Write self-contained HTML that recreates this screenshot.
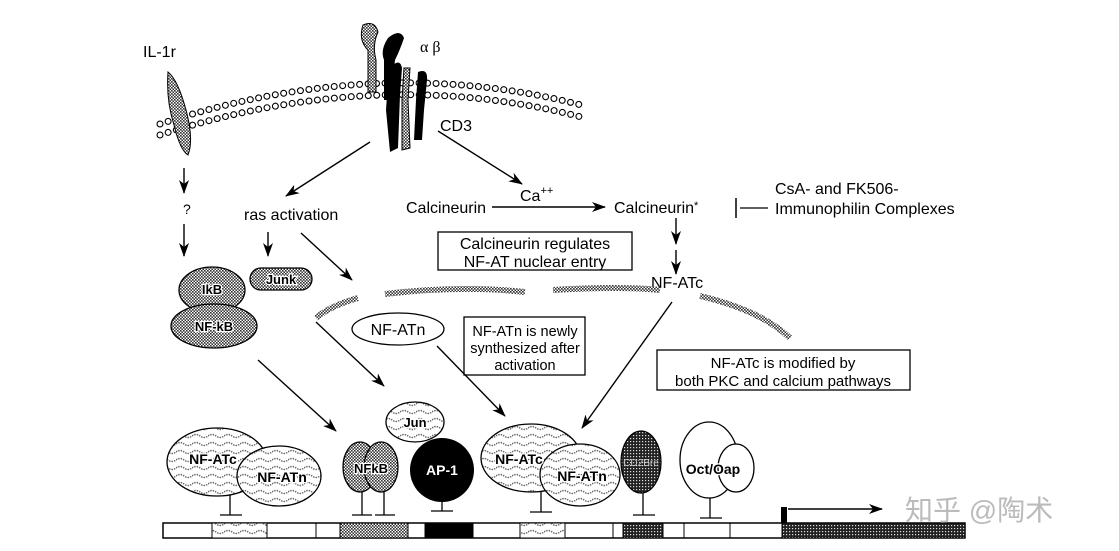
<!DOCTYPE html>
<html><head><meta charset="utf-8"><style>
html,body{margin:0;padding:0;background:#fff;}
svg{display:block;font-family:"Liberation Sans",Arial,sans-serif;}
</style></head><body>
<svg width="1119" height="551" viewBox="0 0 1119 551" xmlns="http://www.w3.org/2000/svg">
<defs>
<pattern id="st" width="3" height="3" patternUnits="userSpaceOnUse"><rect width="3" height="3" fill="#fff"/><rect width="1.6" height="1.6" fill="#333"/><rect x="1.5" y="1.5" width="1.5" height="1.5" fill="#333"/></pattern>
<pattern id="dk" width="3" height="3" patternUnits="userSpaceOnUse"><rect width="3" height="3" fill="#222"/><rect width="1.2" height="1.2" fill="#ddd"/></pattern>
<pattern id="wv" width="16" height="8" patternUnits="userSpaceOnUse"><rect width="16" height="8" fill="#fff"/><path d="M0 4 Q4 1 8 4 T16 4" stroke="#666" stroke-width="1.4" fill="none" stroke-dasharray="1.5 1"/></pattern>
<marker id="ah" markerWidth="14" markerHeight="10" refX="13" refY="5" orient="auto" markerUnits="userSpaceOnUse"><path d="M0 0 L14 5 L0 10 L4 5 Z" fill="#000"/></marker>
</defs>
<g font-size="16" fill="#000">
<text x="143" y="57">IL-1r</text>
<text x="420" y="52" font-family="Liberation Serif" font-size="16">α  β</text>
<text x="440" y="131">CD3</text>
<text x="183" y="214" font-size="14">?</text>
<text x="244" y="220">ras activation</text>
<text x="406" y="213">Calcineurin</text>
<text x="520" y="201">Ca<tspan font-size="11" dy="-7">++</tspan></text>
<text x="614" y="213">Calcineurin<tspan font-size="11" dy="-4">*</tspan></text>
<text x="775" y="194">CsA- and FK506-</text>
<text x="775" y="214">Immunophilin Complexes</text>
<text x="651" y="288">NF-ATc</text>
</g>
<!-- membrane -->
<path d="M160 124 Q380 52 585 106" stroke="#000" stroke-width="7" fill="none" stroke-dasharray="0 8.5" stroke-linecap="round"/>
<path d="M160 124 Q380 52 585 106" stroke="#fff" stroke-width="4.8" fill="none" stroke-dasharray="0 8.5" stroke-linecap="round"/>
<path d="M160 135 Q380 64 585 118" stroke="#000" stroke-width="7" fill="none" stroke-dasharray="0 8.5" stroke-linecap="round"/>
<path d="M160 135 Q380 64 585 118" stroke="#fff" stroke-width="4.8" fill="none" stroke-dasharray="0 8.5" stroke-linecap="round"/>
<!-- IL-1r -->
<path d="M168 72 Q178 80 186 110 Q194 140 188 155 Q180 150 174 125 Q166 100 168 72Z" fill="url(#st)" stroke="#000"/>
<!-- TCR -->
<path d="M363 25 Q375 20 378 32 Q372 45 376 60 L376 92 L368 92 L368 50 Q358 40 363 25Z" fill="url(#st)" stroke="#000"/>
<path d="M388 38 Q400 28 404 38 Q400 50 395 60 L392 90 L390 100 L384 100 L384 60 Q380 50 388 38Z" fill="#000"/>
<path d="M392 66 Q400 58 402 68 L400 95 L398 148 L390 152 L386 110 L388 80Z" fill="#000"/>
<path d="M404 68 L410 68 L408 100 L410 148 L402 150 L402 100Z" fill="url(#st)" stroke="#000"/>
<path d="M418 72 Q428 68 427 80 L424 110 L422 140 L414 140 L416 100Z" fill="#000"/>
<!-- arrows -->
<g stroke="#000" stroke-width="1.4" fill="none" marker-end="url(#ah)">
<line x1="370" y1="142" x2="286" y2="196"/>
<line x1="438" y1="131" x2="522" y2="184"/>
<line x1="184" y1="168" x2="184" y2="193"/>
<line x1="184" y1="224" x2="184" y2="256"/>
<line x1="268" y1="232" x2="268" y2="256"/>
<line x1="301" y1="233" x2="352" y2="280"/>
<line x1="492" y1="207" x2="605" y2="207"/>
<line x1="676" y1="218" x2="676" y2="244"/>
<line x1="676" y1="250" x2="676" y2="274"/>
<line x1="258" y1="360" x2="336" y2="431"/>
<line x1="316" y1="322" x2="384" y2="386"/>
<line x1="437" y1="346" x2="505" y2="416"/>
<line x1="672" y1="302" x2="582" y2="428"/>
<line x1="788" y1="509" x2="882" y2="509"/>
</g>
<line x1="740" y1="208" x2="768" y2="208" stroke="#000" stroke-width="1.3"/>
<line x1="736" y1="198" x2="736" y2="218" stroke="#000" stroke-width="1.5"/>
<!-- nuclear membrane -->
<g stroke="url(#st)" stroke-width="6" fill="none">
<path d="M316 318 Q330 306 358 298"/>
<path d="M385 294 Q460 285 525 292"/>
<path d="M553 290 Q620 286 660 290"/>
<path d="M700 296 Q760 310 790 338"/>
</g>
<!-- boxes -->
<g fill="none" stroke="#000" stroke-width="1.3">
<rect x="438" y="232" width="194" height="38"/>
<rect x="464" y="317" width="121" height="58"/>
<rect x="657" y="350" width="253" height="40"/>
</g>
<g font-size="16" text-anchor="middle">
<text x="535" y="249">Calcineurin regulates</text>
<text x="535" y="267">NF-AT nuclear entry</text>
<text x="525" y="336" font-size="14.5">NF-ATn is newly</text>
<text x="525" y="353" font-size="14.5">synthesized after</text>
<text x="525" y="370" font-size="14.5">activation</text>
<text x="783" y="368" font-size="15">NF-ATc is modified by</text>
<text x="783" y="386" font-size="15">both PKC and calcium pathways</text>
</g>
<!-- cytoplasm proteins -->
<ellipse cx="212" cy="290" rx="33" ry="23" fill="url(#st)" stroke="#000" stroke-width="1.3"/>
<ellipse cx="214" cy="326" rx="43" ry="22" fill="url(#st)" stroke="#000" stroke-width="1.3"/>
<rect x="250" y="268" width="62" height="22" rx="11" fill="url(#st)" stroke="#000" stroke-width="1.3"/>
<g font-weight="bold" font-size="13" text-anchor="middle" fill="#000" stroke="#fff" stroke-width="2.5" paint-order="stroke">
<text x="212" y="294">IkB</text><text x="214" y="331">NF-kB</text><text x="281" y="284">Junk</text>
</g>
<ellipse cx="398" cy="329" rx="46" ry="16" fill="#fff" stroke="#000" stroke-width="1.3"/>
<text x="398" y="335" font-size="16" text-anchor="middle">NF-ATn</text>
<!-- nucleus proteins -->
<g stroke="#000" stroke-width="1.3">
<line x1="230" y1="495" x2="230" y2="515"/><line x1="220" y1="515" x2="242" y2="515"/>
<line x1="362" y1="490" x2="362" y2="515"/><line x1="352" y1="515" x2="372" y2="515"/>
<line x1="384" y1="490" x2="384" y2="515"/><line x1="375" y1="515" x2="395" y2="515"/>
<line x1="442" y1="498" x2="442" y2="511"/><line x1="431" y1="511" x2="453" y2="511"/>
<line x1="541" y1="492" x2="541" y2="512"/><line x1="530" y1="512" x2="552" y2="512"/>
<line x1="643" y1="492" x2="643" y2="515"/><line x1="633" y1="515" x2="655" y2="515"/>
<line x1="710" y1="497" x2="710" y2="518"/><line x1="700" y1="518" x2="722" y2="518"/>
</g>
<ellipse cx="415" cy="422" rx="29" ry="20" fill="url(#wv)" stroke="#000" stroke-width="1.3"/>
<ellipse cx="217" cy="462" rx="50" ry="34" fill="url(#wv)" stroke="#000" stroke-width="1.3"/>
<ellipse cx="279" cy="476" rx="42" ry="30" fill="url(#wv)" stroke="#000" stroke-width="1.3"/>
<ellipse cx="360" cy="467" rx="17" ry="25" fill="url(#st)" stroke="#000" stroke-width="1.3"/>
<ellipse cx="381" cy="467" rx="17" ry="25" fill="url(#st)" stroke="#000" stroke-width="1.3"/>
<circle cx="442" cy="470" r="32" fill="#000"/>
<ellipse cx="531" cy="458" rx="50" ry="34" fill="url(#wv)" stroke="#000" stroke-width="1.3"/>
<ellipse cx="580" cy="475" rx="40" ry="31" fill="url(#wv)" stroke="#000" stroke-width="1.3"/>
<ellipse cx="641" cy="462" rx="20" ry="31" fill="url(#dk)" stroke="#000" stroke-width="1.3"/>
<ellipse cx="709" cy="460" rx="29" ry="38" fill="#fff" stroke="#000" stroke-width="1.3"/>
<ellipse cx="736" cy="468" rx="18" ry="24" fill="#fff" stroke="#000" stroke-width="1.3"/>
<g font-weight="bold" font-size="14" text-anchor="middle" fill="#000" stroke="#fff" stroke-width="2.5" paint-order="stroke">
<text x="415" y="427" font-size="13">Jun</text>
<text x="213" y="464">NF-ATc</text>
<text x="282" y="482">NF-ATn</text>
<text x="371" y="473" font-size="13">NFkB</text>
<text x="519" y="464">NF-ATc</text>
<text x="582" y="481">NF-ATn</text>
<text x="713" y="474">Oct/Oap</text>
</g>
<text x="442" y="475" font-weight="bold" font-size="14" text-anchor="middle" fill="#fff">AP-1</text>
<text x="641" y="466" font-size="10" text-anchor="middle" fill="#ccc">CD2Bre</text>
<!-- DNA -->
<rect x="163" y="523" width="802" height="15" fill="#fff" stroke="#000" stroke-width="1.5"/>
<g stroke="#000" stroke-width="1">
<rect x="212" y="523" width="55" height="15" fill="url(#wv)"/>
<rect x="340" y="523" width="68" height="15" fill="url(#st)"/>
<rect x="425" y="523" width="48" height="15" fill="#000"/>
<rect x="520" y="523" width="45" height="15" fill="url(#wv)"/>
<rect x="623" y="523" width="40" height="15" fill="url(#dk)"/>
<line x1="316" y1="523" x2="316" y2="538"/>
<line x1="613" y1="523" x2="613" y2="538"/>
<line x1="684" y1="523" x2="684" y2="538"/>
<line x1="730" y1="523" x2="730" y2="538"/>
<rect x="782" y="523" width="183" height="15" fill="url(#dk)"/>
</g>
<rect x="781" y="507" width="6" height="16" fill="#000"/>
<text x="905" y="520" font-size="28" fill="#bbb" font-family="'Liberation Sans','Noto Sans CJK SC',sans-serif">知乎 @陶术</text>
</svg>
</body></html>
